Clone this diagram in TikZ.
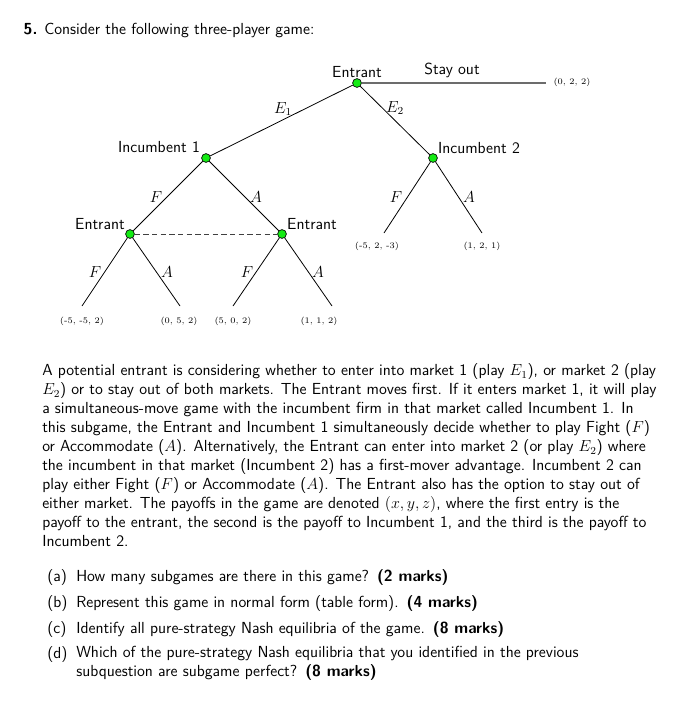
\documentclass[tikz,border=0pt]{standalone}
\usepackage{amsmath,amssymb}
\usepackage{tikz}
\usepackage{xcolor}
\usetikzlibrary{positioning}
\definecolor{decgreen}{RGB}{20,235,20}

\begin{document}
\begin{tikzpicture}[x=0.75pt, y=-0.75pt,
    every node/.style={font=\fontsize{12}{14.25}\selectfont\sffamily},
    dec/.style={circle,draw=black,fill=decgreen,inner sep=0pt,minimum size=6.6pt,line width=0.5pt},
    pay/.style={font=\fontsize{6.4}{7}\selectfont\rmfamily},
    branch/.style={line width=0.6pt}]
        \useasboundingbox (0,0) rectangle (694,704);
        % question heading
        \node[anchor=west] (head) at (19,30) {\textbf{5.} Consider the following three-player game:};
        % decision nodes
        \node[dec] (root) at (357,83) {};
        \node[dec] (inc1) at (206,158) {};
        \node[dec] (inc2) at (433,158) {};
        \node[dec] (entL) at (130,234) {};
        \node[dec] (entR) at (282,234) {};
        % terminal points
        \coordinate (out) at (546,83);
        \coordinate (lFF) at (82,306);  \coordinate (lFA) at (180,306);
        \coordinate (lAF) at (233,306); \coordinate (lAA) at (332,306);
        \coordinate (lF2) at (384,233); \coordinate (lA2) at (482,233);
        % branches
        \draw[gray!85!black,line width=1.2pt] (root) -- (out);
        \draw[branch] (root) -- (inc1);
        \draw[branch] (root) -- (inc2);
        \draw[branch] (inc1) -- (entL);
        \draw[branch] (inc1) -- (entR);
        \draw[branch] (entL) -- (lFF); \draw[branch] (entL) -- (lFA);
        \draw[branch] (entR) -- (lAF); \draw[branch] (entR) -- (lAA);
        \draw[branch] (inc2) -- (lF2); \draw[branch] (inc2) -- (lA2);
        % information set
        \draw[branch,black!75,dash pattern=on 4pt off 2.5pt] (entL) -- (entR);
        % players
        \node (nRoot) at (357,72) {Entrant};
        \node (nOut) at (452,70) {Stay out};
        \node (nInc1) at (159,147) {Incumbent 1};
        \node (nInc2) at (479,148) {Incumbent 2};
        \node (nEntL) at (100,224) {Entrant};
        \node (nEntR) at (312,224) {Entrant};
        % actions
        \node (aE1) at (283,109) {$E_1$};
        \node (aE2) at (395,108) {$E_2$};
        \node (aF1) at (156,197) {$F$};  \node (aA1) at (256,197) {$A$};
        \node (aF2) at (396,197) {$F$};  \node (aA2) at (469,197) {$A$};
        \node (aLF) at (95,272) {$F$};   \node (aLA) at (167,272) {$A$};
        \node (aRF) at (247,272) {$F$};  \node (aRA) at (318,272) {$A$};
        % payoffs
        \node[pay] (pOut) at (572,82) {(0, 2, 2)};
        \node[pay] (pFF) at (82,321) {(-5, -5, 2)};
        \node[pay] (pFA) at (179,321) {(0, 5, 2)};
        \node[pay] (pAF) at (233,321) {(5, 0, 2)};
        \node[pay] (pAA) at (319,321) {(1, 1, 2)};
        \node[pay] (pF2) at (377,246) {(-5, 2, -3)};
        \node[pay] (pA2) at (482,246) {(1, 2, 1)};
        % question text
        \node[anchor=north west,align=left,inner sep=0pt] (story) at (42,363.5)
          {A potential entrant is considering whether to enter into market 1 (play $E_1$), or market 2 (play\\
           $E_2$) or to stay out of both markets. The Entrant moves first. If it enters market 1, it will play\\
           a simultaneous-move game with the incumbent firm in that market called Incumbent 1. In\\
           this subgame, the Entrant and Incumbent 1 simultaneously decide whether to play Fight ($F$)\\
           or Accommodate ($A$). Alternatively, the Entrant can enter into market 2 (or play $E_2$) where\\
           the incumbent in that market (Incumbent 2) has a first-mover advantage. Incumbent 2 can\\
           play either Fight ($F$) or Accommodate ($A$). The Entrant also has the option to stay out of\\
           either market. The payoffs in the game are denoted $(x,y,z)$, where the first entry is the\\
           payoff to the entrant, the second is the payoff to Incumbent 1, and the third is the payoff to\\
           Incumbent 2.};
        % parts
        \node[anchor=west,inner sep=0pt] (qa) at (47,577) {(a)};
        \node[anchor=west,inner sep=0pt] (ta) at (76,577) {How many subgames are there in this game?\enspace\textbf{(2 marks)}};
        \node[anchor=west,inner sep=0pt] (qb) at (47,603) {(b)};
        \node[anchor=west,inner sep=0pt] (tb) at (76,603) {Represent this game in normal form (table form).\enspace\textbf{(4 marks)}};
        \node[anchor=west,inner sep=0pt] (qc) at (47,629) {(c)};
        \node[anchor=west,inner sep=0pt] (tc) at (76,629) {Identify all pure-strategy Nash equilibria of the game.\enspace\textbf{(8 marks)}};
        \node[anchor=west,inner sep=0pt] (qd) at (47,654) {(d)};
        \node[anchor=north west,align=left,inner sep=0pt] (td) at (76,645.5)
          {Which of the pure-strategy Nash equilibria that you identified in the previous\\
           subquestion are subgame perfect?\enspace\textbf{(8 marks)}};
      \end{tikzpicture}
\end{document}
